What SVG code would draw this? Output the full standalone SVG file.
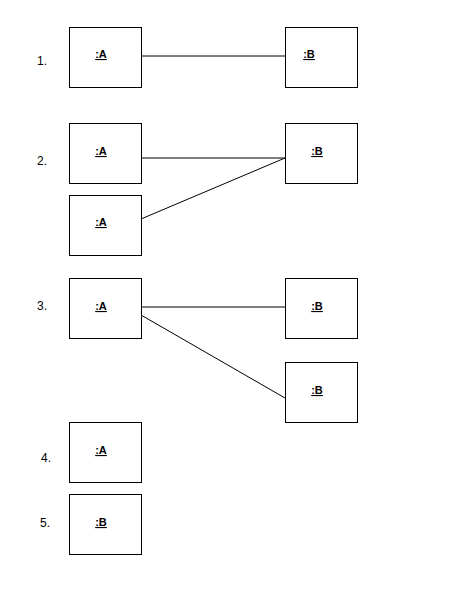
<svg xmlns="http://www.w3.org/2000/svg" width="457" height="593" viewBox="0 0 457 593">
<style>
.box{fill:#fff;stroke:#000;stroke-width:1}
.lbl{font-family:"Liberation Sans",Arial,sans-serif;font-size:11px;font-weight:bold;text-decoration:underline;text-anchor:middle;fill:#000}
.num{font-family:"Liberation Sans",Arial,sans-serif;font-size:12px;fill:#000}
.edge{stroke:#000;stroke-width:1;fill:none}
</style>
<rect width="457" height="593" fill="#fff"/>
<g id="numbers">
<text class="num" x="37" y="65">1.</text>
<text class="num" x="37" y="165">2.</text>
<text class="num" x="37" y="310">3.</text>
<text class="num" x="41" y="462">4.</text>
<text class="num" x="40" y="527">5.</text>
</g>
<g id="connectors">
<line class="edge" x1="141" y1="56" x2="285" y2="56"/>
<line class="edge" x1="141" y1="158" x2="285" y2="158"/>
<line class="edge" x1="141" y1="219" x2="285" y2="158"/>
<line class="edge" x1="141" y1="307" x2="285" y2="307"/>
<line class="edge" x1="141" y1="315" x2="285" y2="398"/>
</g>
<g id="n1a"><rect class="box" x="69.5" y="27.5" width="72" height="60"/><text class="lbl" x="101" y="58">:A</text></g>
<g id="n1b"><rect class="box" x="285.5" y="27.5" width="72" height="60"/><text class="lbl" x="309" y="58">:B</text></g>
<g id="n2a"><rect class="box" x="69.5" y="123.5" width="72" height="60"/><text class="lbl" x="101" y="155">:A</text></g>
<g id="n2b"><rect class="box" x="285.5" y="123.5" width="72" height="60"/><text class="lbl" x="317" y="155">:B</text></g>
<g id="n2c"><rect class="box" x="69.5" y="195.5" width="72" height="60"/><text class="lbl" x="101" y="226">:A</text></g>
<g id="n3a"><rect class="box" x="69.5" y="278.5" width="72" height="60"/><text class="lbl" x="101" y="310">:A</text></g>
<g id="n3b"><rect class="box" x="285.5" y="278.5" width="72" height="60"/><text class="lbl" x="317" y="310">:B</text></g>
<g id="n3c"><rect class="box" x="285.5" y="362.5" width="72" height="60"/><text class="lbl" x="317" y="394">:B</text></g>
<g id="n4a"><rect class="box" x="69.5" y="422.5" width="72" height="60"/><text class="lbl" x="101" y="454">:A</text></g>
<g id="n5b"><rect class="box" x="69.5" y="494.5" width="72" height="60"/><text class="lbl" x="101" y="526">:B</text></g>
</svg>
